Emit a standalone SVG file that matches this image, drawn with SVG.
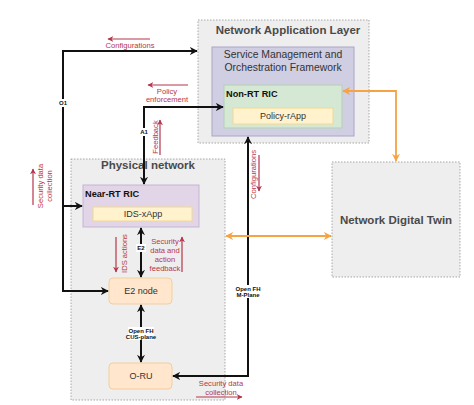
<svg xmlns="http://www.w3.org/2000/svg" width="474" height="405" viewBox="0 0 474 405">
<style>
text{font-family:"Liberation Sans",Arial,sans-serif}
.layer{fill:#eeeeee;stroke:#a6a6a6;stroke-width:1;stroke-dasharray:1.5 1.5}
.ttl{font-size:11.5px;font-weight:bold;fill:#4a4a4a;text-anchor:middle}
.lbl{font-size:9px;fill:#333;text-anchor:middle}
.bl{font-size:9.2px;font-weight:bold;fill:#111}
.blk{fill:none;stroke:#111;stroke-width:2}
.org{fill:none;stroke:#f5a444;stroke-width:1.8}
.red{fill:none;stroke:#b5364b;stroke-width:1.2}
.rt{font-size:7.6px;fill:#b5364b;text-anchor:middle}
.cl{font-size:6px;font-weight:bold;fill:#111;text-anchor:middle}
.bg{fill:#fff}
</style>
<defs>
<marker id="ab" viewBox="0 0 10 10" refX="9" refY="5" markerWidth="8" markerHeight="8" markerUnits="userSpaceOnUse" orient="auto-start-reverse"><path d="M0,0 L10,5 L0,10 L3,5 z" fill="#111"/></marker>
<marker id="ao" viewBox="0 0 10 10" refX="9" refY="5" markerWidth="8" markerHeight="8" markerUnits="userSpaceOnUse" orient="auto-start-reverse"><path d="M0,0 L10,5 L0,10 L3,5 z" fill="#f5a444"/></marker>
<marker id="ar" viewBox="0 0 10 10" refX="9" refY="5" markerWidth="6" markerHeight="6" markerUnits="userSpaceOnUse" orient="auto-start-reverse"><path d="M0,0 L10,5 L0,10 L3,5 z" fill="#b5364b"/></marker>
</defs>

<g id="network-application-layer">
<rect class="layer" x="198" y="20" width="171" height="123"/>
<text class="ttl" x="288" y="34">Network Application Layer</text>
</g>
<g id="smo">
<rect x="212" y="47" width="142" height="89" fill="#d0cee2" stroke="#a9a6c6" stroke-width="1"/>
<text x="283" y="57.5" font-size="10.4" fill="#333" text-anchor="middle">Service Management and</text>
<text x="283" y="70.5" font-size="10.4" fill="#333" text-anchor="middle">Orchestration Framework</text>
</g>
<g id="non-rt-ric">
<rect x="224" y="85" width="118" height="43" fill="#d5e8d4" stroke="#b5cfb3" stroke-width="1"/>
<text class="bl" x="226" y="96.5">Non-RT RIC</text>
</g>
<g id="policy-rapp">
<rect x="233" y="108" width="100" height="16" fill="#fff2cc" stroke="#f0d894" stroke-width="1"/>
<text class="lbl" x="283" y="119.3">Policy-rApp</text>
</g>
<g id="network-digital-twin">
<rect class="layer" x="332" y="162" width="128" height="115"/>
<text class="ttl" x="396" y="224">Network Digital Twin</text>
</g>
<g id="physical-network">
<rect class="layer" x="71" y="159" width="154" height="241"/>
<text class="ttl" x="148" y="168.5">Physical network</text>
</g>
<g id="near-rt-ric">
<rect x="83" y="185" width="116" height="42" fill="#e1d5e7" stroke="#c6b4d4" stroke-width="1"/>
<text class="bl" x="85" y="196.5">Near-RT RIC</text>
</g>
<g id="ids-xapp">
<rect x="93" y="207" width="99" height="14" fill="#fff2cc" stroke="#f0d894" stroke-width="1"/>
<text class="lbl" x="143" y="217.3">IDS-xApp</text>
</g>
<g id="e2-node">
<rect x="109" y="278" width="63" height="26" rx="4" fill="#ffe6cc" stroke="#f2cf9c" stroke-width="1"/>
<text class="lbl" x="141" y="294.3">E2 node</text>
</g>
<g id="o-ru">
<rect x="109" y="363" width="63" height="26" rx="4" fill="#ffe6cc" stroke="#f2cf9c" stroke-width="1"/>
<text class="lbl" x="141" y="379.3">O-RU</text>
</g>

<g id="connectors">
<path class="blk" d="M63 51 L197 51" marker-end="url(#ab)"/>
<path class="blk" d="M63 50 L63 291 L108 291" marker-end="url(#ab)"/>
<path class="blk" d="M63 206 L82 206" marker-end="url(#ab)"/>
<path class="blk" d="M144 184 L144 107 L223 107" marker-start="url(#ab)" marker-end="url(#ab)"/>
<path class="blk" d="M141 228 L141 277" marker-start="url(#ab)" marker-end="url(#ab)"/>
<path class="blk" d="M141 305 L141 362" marker-start="url(#ab)" marker-end="url(#ab)"/>
<path class="blk" d="M248 137 L248 376 L173 376" marker-start="url(#ab)" marker-end="url(#ab)"/>
<path class="org" d="M343 91 L396 91 L396 161" marker-start="url(#ao)" marker-end="url(#ao)"/>
<path class="org" d="M226 236 L331 236" marker-start="url(#ao)" marker-end="url(#ao)"/>

<rect class="bg" x="58" y="99" width="10" height="8"/>
<text class="cl" x="63" y="105.2">O1</text>
<rect class="bg" x="139" y="128" width="10" height="8"/>
<text class="cl" x="144" y="134.2">A1</text>
<rect class="bg" x="136" y="244" width="10" height="8"/>
<text class="cl" x="141" y="250.2">E2</text>
<rect class="bg" x="128" y="327" width="26" height="13"/>
<text class="cl" x="141" y="332.8">Open FH</text>
<text class="cl" x="141" y="339.4">CUS-plane</text>
<rect class="bg" x="236" y="285" width="24" height="13"/>
<text class="cl" x="248" y="290.8">Open FH</text>
<text class="cl" x="248" y="297.4">M-Plane</text>

<path class="red" d="M150 39 L108 39" marker-end="url(#ar)"/>
<text class="rt" x="130" y="47.7">Configurations</text>
<path class="red" d="M188 85 L148 85" marker-end="url(#ar)"/>
<text class="rt" x="167" y="93.7">Policy</text>
<text class="rt" x="167" y="102.4">enforcement</text>
<path class="red" d="M160 155 L160 120" marker-end="url(#ar)"/>
<text class="rt" transform="translate(157.6 137) rotate(-90)">Feedback</text>
<path class="red" d="M33 205 L33 169" marker-end="url(#ar)"/>
<text class="rt" transform="translate(42.6 186) rotate(-90)">Security data</text>
<text class="rt" transform="translate(51.6 186) rotate(-90)">collection</text>
<path class="red" d="M116 237 L116 272" marker-end="url(#ar)"/>
<text class="rt" transform="translate(126.6 253.5) rotate(-90)">IDS actions</text>
<path class="red" d="M182 272 L182 237" marker-end="url(#ar)"/>
<text class="rt" x="165" y="243.7">Security</text>
<text class="rt" x="165" y="252.7">data and</text>
<text class="rt" x="165" y="261.7">action</text>
<text class="rt" x="165" y="270.7">feedback</text>
<path class="red" d="M259 155 L259 191" marker-end="url(#ar)"/>
<text class="rt" transform="translate(256.2 174.5) rotate(-90)">Configurations</text>
<text class="rt" x="221" y="385.7">Security data</text>
<text class="rt" x="221" y="394.6">collection</text>
<path class="red" d="M196 397 L242 397" marker-end="url(#ar)"/>
</g>
</svg>
